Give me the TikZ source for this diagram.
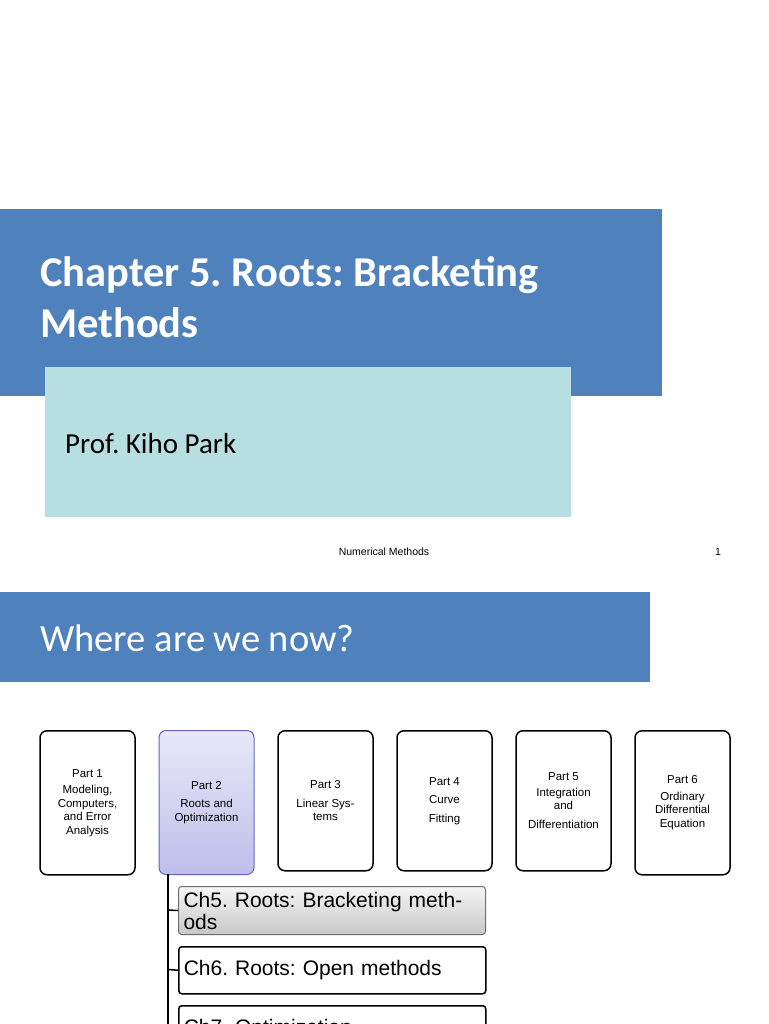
\documentclass[tikz,border=0pt]{standalone}
\usepackage{fontspec}
\setmainfont{Liberation Sans}
\newfontfamily\carlitofont{Carlito}
\frenchspacing
\begin{document}
\begin{tikzpicture}[x=1pt,y=-1pt,
  part/.style={draw=black,line width=1.5pt,rounded corners=7pt,align=center,font=\fontsize{11.5}{13.5}\selectfont,minimum width=95pt,inner sep=2pt},
  chap/.style={draw=black,line width=1.5pt,rounded corners=3pt,anchor=north west,minimum width=307pt,text width=297pt,align=left,font=\fontsize{21}{22}\selectfont,inner sep=5pt}]
\clip (0,0) rectangle (768,1024);
\fill[white] (0,0) rectangle (768,1024);
\fill[fill={rgb,255:red,79;green,129;blue,189}] (0,209) rectangle (662,396);
\node[anchor=west,inner sep=0pt,text=white,font=\carlitofont\bfseries\fontsize{42.5}{51}\selectfont,align=left] (title) at (40,297) {Chapter 5. Roots: Bracketing\\Methods};
\fill[fill={rgb,255:red,183;green,222;blue,224}] (45,367) rectangle (571,517);
\node[anchor=west,inner sep=0pt,font=\carlitofont\fontsize{29}{32}\selectfont] (prof) at (65,444) {Prof. Kiho Park};
\node[font=\fontsize{10.5}{12}\selectfont] (nm) at (384,552) {Numerical Methods};
\node[font=\fontsize{10.5}{12}\selectfont] (pg) at (718,552) {1};
\fill[fill={rgb,255:red,79;green,129;blue,189}] (0,592) rectangle (650,682);
\node[anchor=west,inner sep=0pt,text=white,font=\carlitofont\fontsize{38.5}{40}\selectfont] (where) at (40,638) {Where are we now?};
\node[part,minimum height=144pt,anchor=north] (p1) at (87.5,730) {Part 1\\[3pt]Modeling,\\Computers,\\and Error\\Analysis};
\node[part,minimum height=144pt,anchor=north,draw={rgb,255:red,100;green,100;blue,190},line width=1pt,top color={rgb,255:red,232;green,232;blue,248},bottom color={rgb,255:red,190;green,190;blue,235}] (p2) at (206.5,730) {Part 2\\[5pt]Roots and\\Optimization};
\node[part,minimum height=140pt,anchor=north] (p3) at (325.5,730) {Part 3\\[5pt]Linear Sys-\\tems};
\node[part,minimum height=140pt,anchor=north] (p4) at (444.5,730) {Part 4\\[5pt]Curve\\[5pt]Fitting};
\node[part,minimum height=140pt,anchor=north] (p5) at (563.5,730) {Part 5\\[2pt]Integration\\and\\[5pt]Differentiation};
\node[part,minimum height=144pt,anchor=north] (p6) at (682.5,730) {Part 6\\[3pt]Ordinary\\Differential\\Equation};
\node[chap,minimum height=48pt,draw={rgb,255:red,110;green,110;blue,110},line width=1pt,top color={rgb,255:red,245;green,245;blue,245},bottom color={rgb,255:red,200;green,200;blue,200}] (c5) at (178,886) {Ch5. Roots: Bracketing meth-\\ods};
\node[chap,minimum height=47pt] (c6) at (178,946) {Ch6. Roots: Open methods};
\node[chap,minimum height=47pt] (c7) at (178,1005) {Ch7. Optimization};
\coordinate (top) at (168,874);
\coordinate (bot) at (168,1024);
\draw[line width=1.5pt] (top) -- (bot);
\draw[line width=1.5pt] (168,910) -- (c5.west);
\draw[line width=1.5pt] (168,969.5) -- (c6.west);
\draw[line width=1.5pt] (168,1028.5) -- (c7.west);
\end{tikzpicture}
\end{document}
